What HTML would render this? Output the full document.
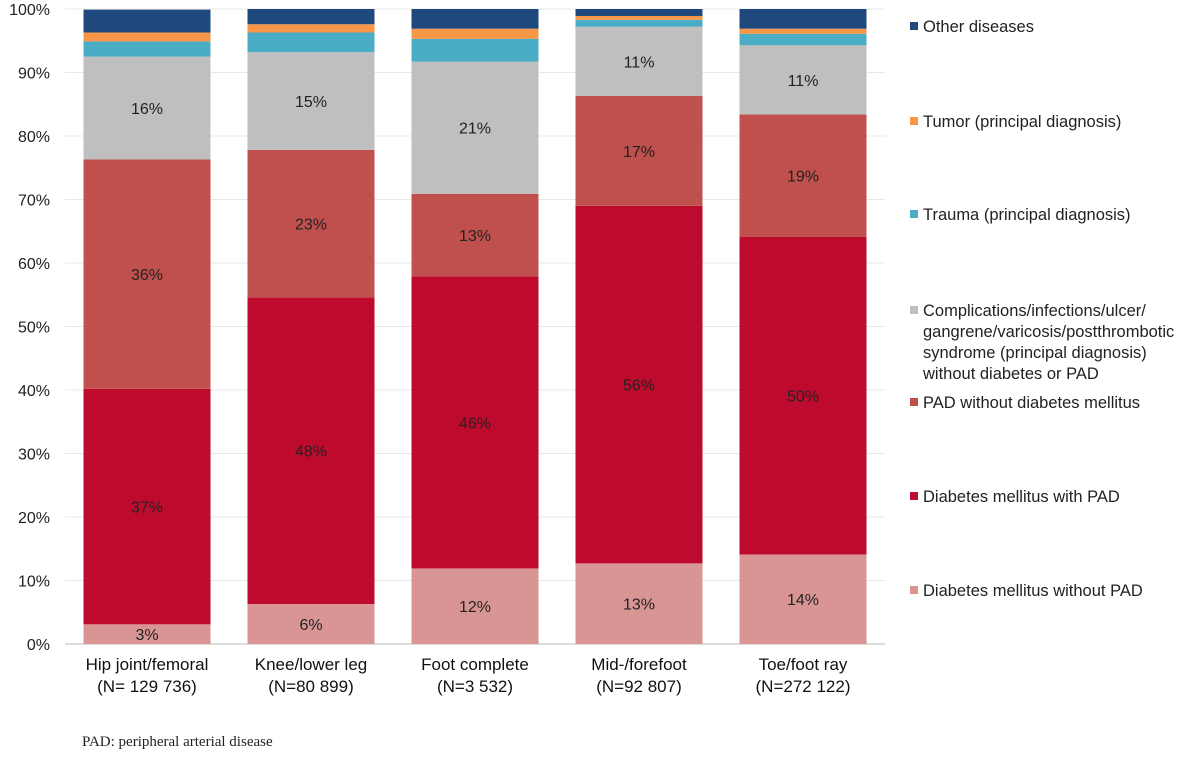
<!DOCTYPE html>
<html><head><meta charset="utf-8"><style>
body{margin:0;background:#fff;width:1200px;height:754px;overflow:hidden}
svg text{font-family:"Liberation Sans",sans-serif}
</style></head><body>
<svg width="1200" height="754" xmlns="http://www.w3.org/2000/svg">
<g id="grid"></g><g id="bars"></g><g id="axes"></g><g id="legend"></g>
<text x="82" y="746" font-size="15" fill="#222" style="font-family:'Liberation Serif',serif">PAD: peripheral arterial disease</text>
</svg>
<script>
const categories=["Hip joint/femoral","Knee/lower leg","Foot complete","Mid-/forefoot","Toe/foot ray"];
const catN=["(N= 129 736)","(N=80 899)","(N=3 532)","(N=92 807)","(N=272 122)"];
const seriesNames=["Diabetes mellitus without PAD","Diabetes mellitus with PAD","PAD without diabetes mellitus","Complications","Trauma (principal diagnosis)","Tumor (principal diagnosis)","Other diseases"];
const dmNoPad=[3.1,6.3,11.9,12.7,14.1];
const dmPad=[37.1,48.3,46,56.3,50];
const padNoDm=[36.1,23.2,13,17.3,19.3];
const compl=[16.2,15.4,20.8,10.9,10.9];
const trauma=[2.4,3.1,3.6,1.1,1.8];
const tumor=[1.4,1.3,1.6,0.6,0.8];
const other=[3.6,2.4,3.1,1.1,3.1];
const labelsShown=[["3%","6%","12%","13%","14%"],["37%","48%","46%","56%","50%"],["36%","23%","13%","17%","19%"],["16%","15%","21%","11%","11%"]];
const yTicks=[0,10,20,30,40,50,60,70,80,90,100];
const colors=["#d99594","#be0b2d","#c0504d","#bfbfbf","#4bacc6","#f79646","#1f497d"];
const series=[dmNoPad,dmPad,padNoDm,compl,trauma,tumor,other];
const NS="http://www.w3.org/2000/svg";
const y0=644,y1=9,xL=65,xR=885;
const yS=v=>y0-(v/100)*(y0-y1);
const band=(xR-xL)/categories.length;
const xC=i=>xL+band*(i+0.5);
const bw=127;
function mk(t,a,p,txt){const e=document.createElementNS(NS,t);for(const k in a)e.setAttribute(k,a[k]);if(txt!=null)e.textContent=txt;p.appendChild(e);return e;}
const grid=document.getElementById('grid'),bars=document.getElementById('bars'),axes=document.getElementById('axes'),leg=document.getElementById('legend');
yTicks.forEach(t=>{
 const l=mk('line',{x1:xL,x2:xR,y1:yS(t),y2:yS(t),stroke:t==0?'#bbb':'#e8e8e8','stroke-width':1},grid);
 
 
 const tx=mk('text',{x:50,y:yS(t)+6,'text-anchor':'end','font-size':16,fill:'#222'},axes,t+'%');
 
 
});
categories.forEach((c,i)=>{
 let acc=0;
 series.forEach((s,k)=>{
  const v=s[i];
  const r=mk('rect',{x:xC(i)-bw/2,y:yS(acc+v),width:bw,height:yS(acc)-yS(acc+v),fill:colors[k]},bars);
  
  
  if(k<4){
   const t=mk('text',{x:xC(i),y:(yS(acc)+yS(acc+v))/2+6,'text-anchor':'middle','font-size':16,fill:'#222'},bars,labelsShown[k][i]);
   
   
  }
  acc+=v;
 });
 const a=mk('text',{x:xC(i),y:670,'text-anchor':'middle','font-size':17,fill:'#111'},axes,c);
 
 
 const b=mk('text',{x:xC(i),y:692,'text-anchor':'middle','font-size':17,fill:'#111'},axes,catN[i]);
 
 
});
const legItems=[
 [6,26,["Other diseases"]],[5,121,["Tumor (principal diagnosis)"]],[4,214,["Trauma (principal diagnosis)"]],
 [3,310,["Complications/infections/ulcer/","gangrene/varicosis/postthrombotic","syndrome (principal diagnosis)","without diabetes or PAD"]],
 [2,402,["PAD without diabetes mellitus"]],[1,496,["Diabetes mellitus with PAD"]],[0,590,["Diabetes mellitus without PAD"]]];
legItems.forEach(([k,y,lines])=>{
 const g=mk('g',{},leg);
 
 
 mk('rect',{x:910,y:y-4,width:8,height:8,fill:colors[k]},g);
 lines.forEach((ln,j)=>mk('text',{x:923,y:y+6+j*21,'font-size':16.5,fill:'#222'},g,ln));
});
</script>
</body></html>
